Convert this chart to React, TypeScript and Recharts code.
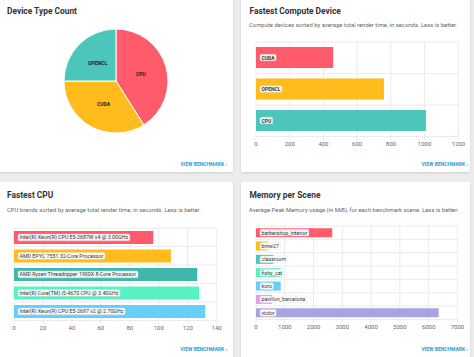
import React from 'react';
import {
  PieChart,
  Pie,
  Cell,
  BarChart,
  Bar,
  XAxis,
  YAxis,
  CartesianGrid,
  LabelList,
} from 'recharts';

const deviceTypes = ['CPU', 'CUDA', 'OPENCL'];
const deviceCounts = [41, 34, 25];

const computeDevices = ['CUDA', 'OPENCL', 'CPU'];
const computeTimes = [458, 759, 1008];
const computeTicks = [0, 200, 400, 600, 800, 1000, 1200];

const cpuNames = [
  'Intel(R) Xeon(R) CPU E5-2687W v4 @ 3.00GHz',
  'AMD EPYC 7551 32-Core Processor',
  'AMD Ryzen Threadripper 1900X 8-Core Processor',
  'Intel(R) Core(TM) i5-4670 CPU @ 3.40GHz',
  'Intel(R) Xeon(R) CPU E5-2697 v2 @ 2.70GHz',
];
const cpuTimes = [96.2, 108.4, 126.6, 127.8, 132.1];
const cpuTicks = [0, 20, 40, 60, 80, 100, 120, 140];

const scenes = ['barbershop_interior', 'bmw27', 'classroom', 'fishy_cat', 'koro', 'pavillon_barcelona', 'victor'];
const sceneMemory = [2650, 420, 600, 860, 860, 560, 6350];
const memoryTicks = [0, 1000, 2000, 3000, 4000, 5000, 6000, 7000];

const pieColors = ['#ff5b6b', '#ffbc1c', '#4cc6ba'];
const cpuColors = ['#ff5b6b', '#ffbc1c', '#3fb8ab', '#56f2c3', '#69cdf9'];
const sceneColors = ['#ff5b6b', '#ffbc1c', '#4cc6ba', '#56f2c3', '#69cdf9', '#e69af1', '#a8a4e0'];

const FONT = 'Roboto, "Noto Sans", sans-serif';

let canvasCtx: CanvasRenderingContext2D | null = null;
const measure = (text: string, size: number, weight: number) => {
  if (!canvasCtx) canvasCtx = document.createElement('canvas').getContext('2d');
  if (!canvasCtx) return text.length * size * 0.5;
  canvasCtx.font = `${weight} ${size}px Roboto`;
  return canvasCtx.measureText(text).width;
};

const RADIAN = Math.PI / 180;

const pieLabel = (p: any) => {
  const r = p.outerRadius * 0.5;
  const x = p.cx + r * Math.cos(-p.midAngle * RADIAN);
  const y = p.cy + r * Math.sin(-p.midAngle * RADIAN);
  return (
    <text x={x} y={y} textAnchor="middle" dominantBaseline="central" fontSize={5} fontWeight={700} fill="#222" fontFamily={FONT}>
      {p.name}
    </text>
  );
};

const makeLabel = (size: number, weight: number) => (p: any) => {
  const x = Number(p.x);
  const y = Number(p.y);
  const height = Number(p.height);
  const text = String(p.value);
  const w = measure(text, size, weight) + 3;
  const h = size + 1.5;
  const bx = x + 4;
  const by = y + height / 2 - h / 2;
  return (
    <g>
      <rect x={bx} y={by} width={w} height={h} rx={1.5} fill="#fff" fillOpacity={0.92} stroke="#d8d8d8" strokeWidth={0.4} />
      <text x={bx + 1.5} y={by + h / 2} dominantBaseline="central" fontSize={size} fontWeight={weight} fill="#333" fontFamily={FONT}>
        {text}
      </text>
    </g>
  );
};

type HBarProps = {
  left: number;
  top: number;
  plotW: number;
  plotH: number;
  names: string[];
  values: number[];
  colors: string[];
  ticks: number[];
  labelSize: number;
  labelWeight: number;
};

const HBar = ({ left, top, plotW, plotH, names, values, colors, ticks, labelSize, labelWeight }: HBarProps) => {
  const data = names.map((name, i) => ({ name, value: values[i] }));
  const ML = 10;
  const MR = 12;
  const MT = 5;
  const XH = 16;
  const n = data.length;
  return (
    <div style={{ position: 'absolute', left: left - ML, top: top - MT }}>
      <BarChart
        width={ML + plotW + MR}
        height={MT + plotH + XH}
        data={data}
        layout="vertical"
        margin={{ top: MT, left: ML, right: MR, bottom: 0 }}
        barCategoryGap="16%"
      >
        <CartesianGrid
          stroke="#e6e6e6"
          strokeWidth={0.8}
          horizontalCoordinatesGenerator={(props: any) =>
            Array.from({ length: n + 1 }, (_, i) => props.offset.top + (i * props.offset.height) / n)
          }
        />
        <XAxis
          type="number"
          domain={[ticks[0], ticks[ticks.length - 1]]}
          ticks={ticks}
          interval={0}
          axisLine={false}
          tickLine={{ stroke: '#e6e6e6', strokeWidth: 0.8 }}
          tickSize={4}
          tickMargin={1}
          height={XH}
          tick={{ fontSize: 6, fill: '#666', fontFamily: FONT }}
        />
        <YAxis type="category" dataKey="name" hide />
        <Bar dataKey="value" isAnimationActive={false}>
          {data.map((_, i) => (
            <Cell key={i} fill={colors[i]} />
          ))}
          <LabelList dataKey="name" content={makeLabel(labelSize, labelWeight)} />
        </Bar>
      </BarChart>
    </div>
  );
};

const cardStyle: React.CSSProperties = {
  position: 'absolute',
  background: '#fff',
  boxShadow: '0 1px 2px rgba(0,0,0,0.12)',
};

const Title = ({ x, y, text }: { x: number; y: number; text: string }) => (
  <div style={{ position: 'absolute', left: x, top: y - 5, fontSize: 8.4, lineHeight: '10px', fontWeight: 700, color: '#333', whiteSpace: 'nowrap' }}>
    {text}
  </div>
);

const Sub = ({ x, y, text }: { x: number; y: number; text: string }) => (
  <div style={{ position: 'absolute', left: x, top: y - 3.5, fontSize: 5.9, lineHeight: '7px', color: '#666', whiteSpace: 'nowrap' }}>
    {text}
  </div>
);

const Link = ({ right, y }: { right: number; y: number }) => (
  <div style={{ position: 'absolute', left: right - 60, width: 60, top: y - 3, textAlign: 'right', fontSize: 5, lineHeight: '6px', fontWeight: 700, color: '#2b9bd8', whiteSpace: 'nowrap' }}>
    VIEW BENCHMARK ›
  </div>
);

export default function App() {
  const pieData = deviceTypes.map((name, i) => ({ name, value: deviceCounts[i] }));
  return (
    <div style={{ position: 'absolute', left: 0, top: 0, width: 474, height: 357, background: '#ececec', overflow: 'hidden', fontFamily: FONT }}>
      <div style={{ ...cardStyle, left: -4, top: -4, width: 237, height: 176 }} />
      <div style={{ ...cardStyle, left: 241, top: -4, width: 229, height: 176 }} />
      <div style={{ ...cardStyle, left: -4, top: 182, width: 237, height: 180 }} />
      <div style={{ ...cardStyle, left: 241, top: 182, width: 229, height: 180 }} />

      <Title x={7} y={11} text="Device Type Count" />
      <div style={{ position: 'absolute', left: 0, top: 0 }}>
        <PieChart width={233} height={165} margin={{ top: 0, left: 0, right: 0, bottom: 0 }}>
          <Pie
            data={pieData}
            dataKey="value"
            nameKey="name"
            cx={116}
            cy={81}
            outerRadius={52}
            startAngle={90}
            endAngle={-270}
            stroke="#fff"
            strokeWidth={1}
            labelLine={false}
            label={pieLabel}
            isAnimationActive={false}
          >
            {pieData.map((_, i) => (
              <Cell key={i} fill={pieColors[i]} />
            ))}
          </Pie>
        </PieChart>
      </div>
      <Link right={227} y={164} />

      <Title x={249.5} y={11} text="Fastest Compute Device" />
      <Sub x={249} y={25.7} text="Compute devices sorted by average total render time, in seconds. Less is better." />
      <HBar
        left={256}
        top={42.3}
        plotW={202.3}
        plotH={94.5}
        names={computeDevices}
        values={computeTimes}
        colors={pieColors}
        ticks={computeTicks}
        labelSize={5}
        labelWeight={700}
      />
      <Link right={468} y={164} />

      <Title x={7} y={194.7} text="Fastest CPU" />
      <Sub x={7} y={210.7} text="CPU brands sorted by average total render time, in seconds. Less is better." />
      <HBar
        left={14}
        top={227.5}
        plotW={202.7}
        plotH={92.5}
        names={cpuNames}
        values={cpuTimes}
        colors={cpuColors}
        ticks={cpuTicks}
        labelSize={5.3}
        labelWeight={400}
      />
      <Link right={227} y={349} />

      <Title x={249.5} y={194.7} text="Memory per Scene" />
      <Sub x={249} y={210.7} text="Average Peak Memory usage (in MiB), for each benchmark scene. Less is better." />
      <HBar
        left={256.3}
        top={226.3}
        plotW={201.4}
        plotH={93.5}
        names={scenes}
        values={sceneMemory}
        colors={sceneColors}
        ticks={memoryTicks}
        labelSize={5.3}
        labelWeight={400}
      />
      <Link right={468} y={349} />
    </div>
  );
}
